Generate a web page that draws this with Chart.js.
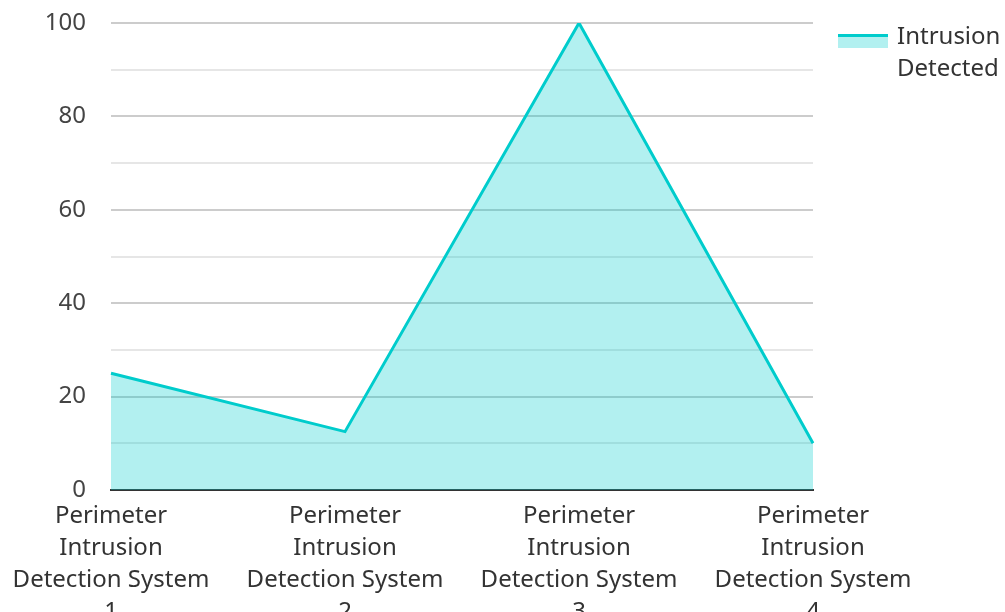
<!DOCTYPE html>
<html>
<head>
<meta charset="utf-8">
<script src="https://cdn.jsdelivr.net/npm/chart.js@4.4.0/dist/chart.umd.min.js"></script>
<style>
    html, body { margin: 0; padding: 0; background: #fff; overflow: hidden; }
    #wrap { position: relative; width: 1005px; height: 612px; }
    .legend {
        position: absolute; left: 838px; top: 19px;
        font-family: 'Noto Sans', sans-serif; font-size: 24px; line-height: 32px; color: #333;
    }
    .legend .swatch {
        position: absolute; left: 0; top: 15px; width: 50px; height: 14px;
        background: rgba(0, 204, 204, 0.3); border-top: 3px solid #00cccc; box-sizing: border-box;
    }
    .legend .text { margin-left: 59px; }
</style>
</head>
<body>
<div id="wrap">
    <canvas id="chart" width="1005" height="612"></canvas>
    <div class="legend"><div class="swatch"></div><div class="text">Intrusion<br>Detected</div></div>
</div>
<script>
// Daten
const categories = [
    ['Perimeter', 'Intrusion', 'Detection System', '1'],
    ['Perimeter', 'Intrusion', 'Detection System', '2'],
    ['Perimeter', 'Intrusion', 'Detection System', '3'],
    ['Perimeter', 'Intrusion', 'Detection System', '4']
];
const intrusionDetected = [25, 12.5, 100, 10];
const seriesName = 'Intrusion Detected';

const font = { family: 'Noto Sans, sans-serif', size: 24, lineHeight: 1.333 };

const ctx = document.getElementById('chart').getContext('2d');
new Chart(ctx, {
    type: 'line',
    data: {
        labels: categories,
        datasets: [{
            label: seriesName,
            data: intrusionDetected,
            borderColor: '#00cccc',
            backgroundColor: 'rgba(0, 204, 204, 0.3)',
            borderWidth: 3,
            tension: 0,
            fill: 'origin',
            pointRadius: 0,
            pointHoverRadius: 0
        }]
    },
    options: {
        responsive: false,
        animation: false,
        layout: { padding: { top: 23, right: 192, left: 0, bottom: 0 } },
        plugins: {
            legend: { display: false },
            tooltip: { enabled: false }
        },
        scales: {
            x: {
                offset: false,
                grid: { display: false, drawTicks: false },
                border: { display: true, color: '#333333', width: 2 },
                ticks: {
                    color: '#333333',
                    font: font,
                    padding: 10,
                    maxRotation: 0,
                    autoSkip: false
                },
                afterFit: (scale) => {
                    scale.height = 122;
                    scale.paddingLeft = 0;
                    scale.paddingRight = 0;
                }
            },
            y: {
                min: 0,
                max: 100,
                grid: {
                    drawTicks: false,
                    color: (c) => (c.tick && c.tick.value % 20 === 0) ? '#cccccc' : '#e6e6e6',
                    lineWidth: 2
                },
                border: { display: false },
                ticks: {
                    stepSize: 10,
                    color: '#444444',
                    font: font,
                    padding: 25,
                    callback: (v) => v % 20 === 0 ? v : ''
                },
                afterFit: (scale) => {
                    scale.width = 111;
                    scale.paddingTop = 0;
                    scale.paddingBottom = 0;
                }
            }
        }
    }
});
</script>
</body>
</html>
